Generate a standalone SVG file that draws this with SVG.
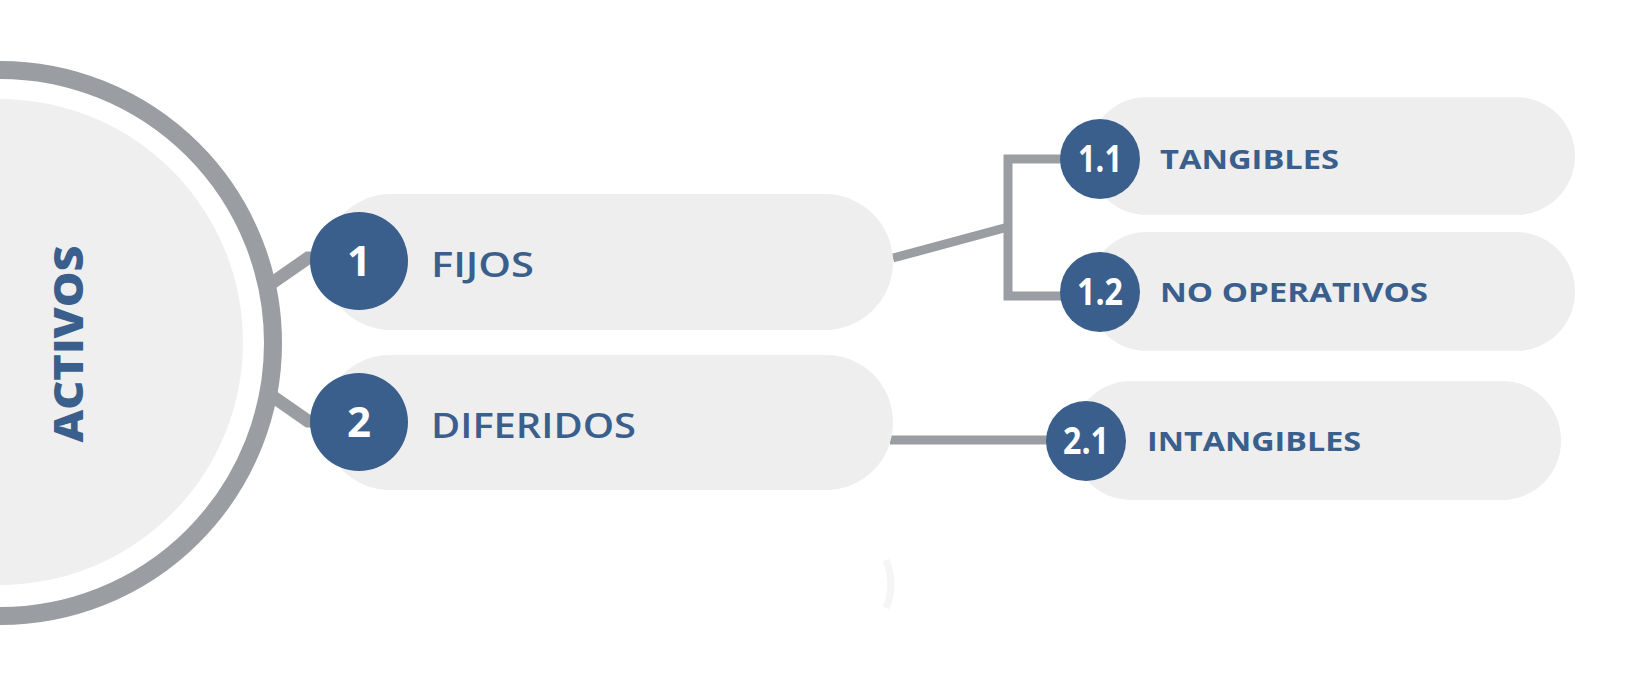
<svg xmlns="http://www.w3.org/2000/svg" width="1632" height="690" viewBox="0 0 1632 690">
<style>
.pill{fill:#eeeeee}
.badge{fill:#3a5f8c}
.num{fill:#ffffff;font-family:"Open Sans","Liberation Sans",sans-serif;font-weight:700;text-anchor:middle}
.lbl{fill:#3a5f8c;font-family:"Open Sans","Liberation Sans",sans-serif;font-weight:600}
.sub{font-weight:700}
.conn{fill:none;stroke:#9a9da1;stroke-linejoin:miter}
</style>
<rect width="1632" height="690" fill="#ffffff"/>
<g id="faint-artifact"><path d="M886,560 Q896,585 886,608" fill="none" stroke="#f5f5f5" stroke-width="7"/></g>
<g id="activos">
<circle cx="0" cy="342" r="243" fill="#efefef"/>
<circle cx="0" cy="343" r="273" fill="none" stroke="#9a9da1" stroke-width="18"/>
<text transform="translate(83,344) rotate(-90)" text-anchor="middle" fill="#3a5f8c" font-family="'Open Sans','Liberation Sans',sans-serif" font-weight="800" font-size="40" textLength="197" lengthAdjust="spacingAndGlyphs">ACTIVOS</text>
</g>
<g id="connectors">
<polyline class="conn" stroke-width="13" points="272,283 308,258 330,258"/>
<polyline class="conn" stroke-width="13" points="272,396 308,421 330,421"/>
<polyline class="conn" stroke-width="9" points="893,258 1008,227"/>
<polyline class="conn" stroke-width="9" points="1080,159 1008,159 1008,296 1080,296"/>
<polyline class="conn" stroke-width="9" points="890,440 1070,440"/>
</g>
<g id="n1">
<rect class="pill" x="323" y="194" width="570" height="136" rx="68"/>
<circle class="badge" cx="359" cy="261" r="49"/>
<text class="num" x="359" y="276" font-size="42">1</text>
<text class="lbl" x="431" y="277" font-size="34" textLength="103" lengthAdjust="spacingAndGlyphs">FIJOS</text>
</g>
<g id="n2">
<rect class="pill" x="323" y="355" width="570" height="135" rx="67"/>
<circle class="badge" cx="359" cy="422" r="49"/>
<text class="num" x="359" y="437" font-size="42">2</text>
<text class="lbl" x="431" y="438" font-size="34" textLength="205" lengthAdjust="spacingAndGlyphs">DIFERIDOS</text>
</g>
<g id="n11">
<rect class="pill" x="1088" y="97" width="487" height="118" rx="59"/>
<circle class="badge" cx="1100" cy="159" r="40"/>
<text class="num" x="1100" y="172" font-size="37" textLength="44" lengthAdjust="spacingAndGlyphs">1.1</text>
<text class="lbl sub" x="1160" y="169" font-size="27" textLength="179" lengthAdjust="spacingAndGlyphs">TANGIBLES</text>
</g>
<g id="n12">
<rect class="pill" x="1088" y="232" width="487" height="119" rx="59"/>
<circle class="badge" cx="1100" cy="292" r="40"/>
<text class="num" x="1100" y="305" font-size="37" textLength="46" lengthAdjust="spacingAndGlyphs">1.2</text>
<text class="lbl sub" x="1160" y="302" font-size="27" textLength="268" lengthAdjust="spacingAndGlyphs">NO OPERATIVOS</text>
</g>
<g id="n21">
<rect class="pill" x="1072" y="381" width="489" height="119" rx="59"/>
<circle class="badge" cx="1086" cy="441" r="40"/>
<text class="num" x="1086" y="454" font-size="37" textLength="46" lengthAdjust="spacingAndGlyphs">2.1</text>
<text class="lbl sub" x="1147" y="451" font-size="27" textLength="214" lengthAdjust="spacingAndGlyphs">INTANGIBLES</text>
</g>
</svg>
